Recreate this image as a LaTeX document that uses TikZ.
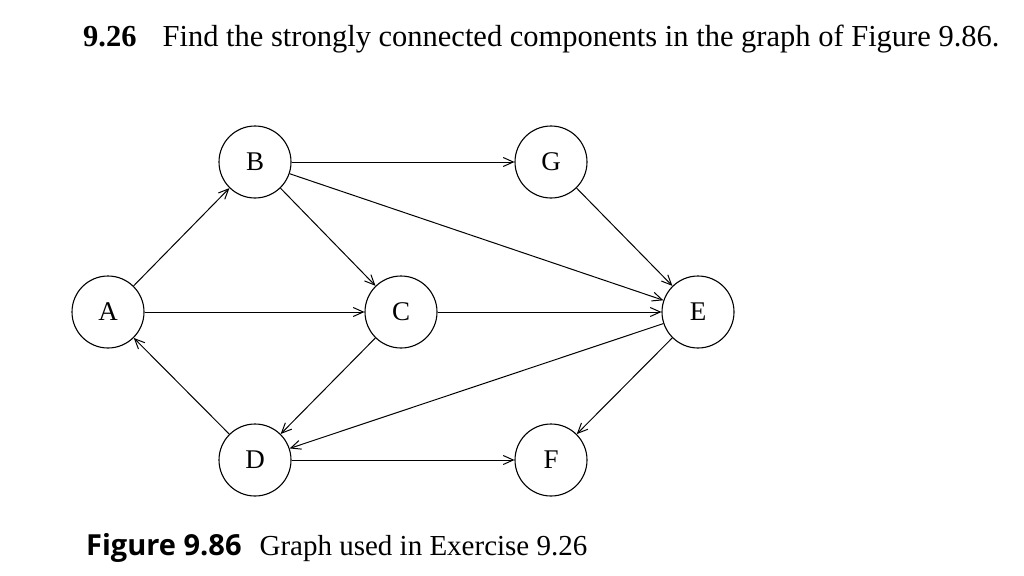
\documentclass[tikz,border=0pt]{standalone}
\usepackage{fontspec}
\setmainfont{Liberation Serif}
\newfontfamily\capfont{Open Sans}
\usetikzlibrary{arrows.meta}
\begin{document}
\begin{tikzpicture}[x=1pt,y=-1pt,
  vtx/.style={circle,draw,line width=1.1pt,minimum size=72pt,inner sep=0pt,font=\fontsize{27}{30}\selectfont},
  edge/.style={-{Straight Barb[length=10pt,width=9pt,line width=1pt]},line width=1pt}]
\useasboundingbox (0,0) rectangle (1024,575);
\node[anchor=base west,inner sep=0pt,font=\fontsize{30.5}{34}\selectfont] (t) at (83,47) {\textbf{9.26}\hspace{26pt}Find the strongly connected components in the graph of Figure 9.86.};
\node[vtx] (A) at (108,312) {A};
\node[vtx] (B) at (255,162) {B};
\node[vtx] (G) at (551,162) {G};
\node[vtx] (C) at (401,312) {C};
\node[vtx] (E) at (698,312) {E};
\node[vtx] (D) at (255,460) {D};
\node[vtx] (F) at (551,460) {F};
\draw[edge] (A) -- (B);
\draw[edge] (A) -- (C);
\draw[edge] (B) -- (G);
\draw[edge] (B) -- (C);
\draw[edge] (B) -- (E);
\draw[edge] (G) -- (E);
\draw[edge] (C) -- (E);
\draw[edge] (C) -- (D);
\draw[edge] (D) -- (A);
\draw[edge] (D) -- (F);
\draw[edge] (E) -- (D);
\draw[edge] (E) -- (F);
\node[anchor=base west,inner sep=0pt,font=\fontsize{29}{32}\selectfont] (cap) at (86,555) {{\capfont\bfseries Figure 9.86}\hspace{18pt}Graph used in Exercise 9.26};
\end{tikzpicture}
\end{document}
